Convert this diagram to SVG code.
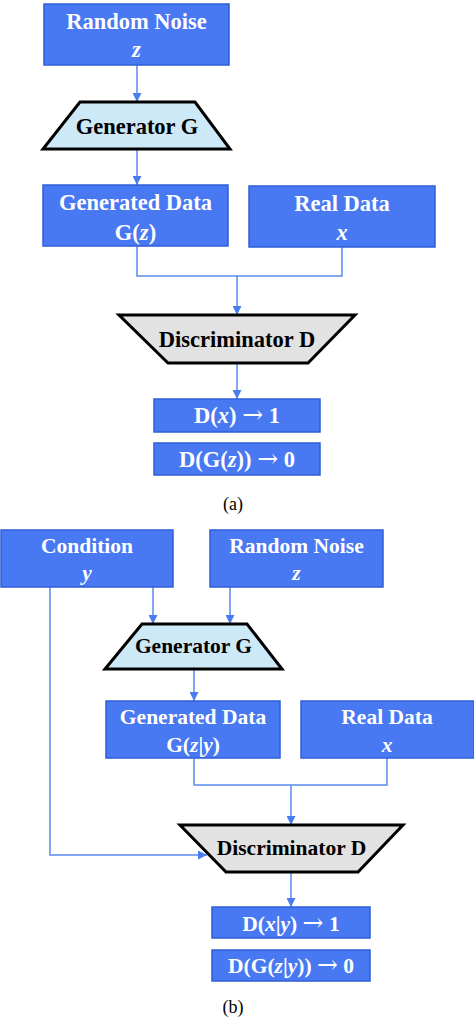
<svg xmlns="http://www.w3.org/2000/svg" width="474" height="1018" viewBox="0 0 474 1018">
<style>
.box{fill:#4878f2;stroke:#2f5fd6;stroke-width:1.5}
.gen{fill:#cde8f7;stroke:#000;stroke-width:3;stroke-linejoin:miter}
.dis{fill:#e2e2e2;stroke:#000;stroke-width:3;stroke-linejoin:miter}
.wt{font-family:"Liberation Serif","Times New Roman",serif;font-weight:bold;fill:#fff;text-anchor:middle}
.bt{font-family:"Liberation Serif","Times New Roman",serif;font-weight:bold;fill:#000;text-anchor:middle}
.a{font-size:22.5px}
.b{font-size:21.5px}
.cap{font-family:"Liberation Serif","Times New Roman",serif;font-size:18px;fill:#000;text-anchor:middle}
.i{font-style:italic}
.ar{font-family:"DejaVu Serif",serif;font-weight:normal;font-size:25px}
.con{fill:none;stroke:#5a8af0;stroke-width:1.5}
</style>
<defs>
<marker id="ah" viewBox="0 0 10 10" refX="10" refY="5" markerWidth="9" markerHeight="9" markerUnits="userSpaceOnUse" orient="auto">
<path d="M0,0 L10,5 L0,10 z" fill="#4a7cf0"/>
</marker>
</defs>

<g id="connectors">
<path class="con" d="M137,65 V102" marker-end="url(#ah)"/>
<path class="con" d="M137,150 V185" marker-end="url(#ah)"/>
<path class="con" d="M137,246 V276 H342 V247"/>
<path class="con" d="M237,276 V315" marker-end="url(#ah)"/>
<path class="con" d="M237,363 V399" marker-end="url(#ah)"/>
<path class="con" d="M153,587 V624" marker-end="url(#ah)"/>
<path class="con" d="M230,587 V624" marker-end="url(#ah)"/>
<path class="con" d="M50,587 V855 H207" marker-end="url(#ah)"/>
<path class="con" d="M194,669 V701" marker-end="url(#ah)"/>
<path class="con" d="M194,758 V785 H387 V758"/>
<path class="con" d="M291,785 V825" marker-end="url(#ah)"/>
<path class="con" d="M291,872 V907" marker-end="url(#ah)"/>
</g>

<g id="a-noise">
<rect class="box" x="44" y="4" width="185" height="61"/>
<text class="wt a" x="136.5" y="29">Random Noise</text>
<text class="wt a i" x="136.5" y="57">z</text>
</g>
<g id="a-generator">
<polygon class="gen" points="80,102 195,102 230,149 43,149"/>
<text class="bt a" x="137" y="134">Generator G</text>
</g>
<g id="a-generated">
<rect class="box" x="43" y="185" width="185" height="61"/>
<text class="wt a" x="135.5" y="210">Generated Data</text>
<text class="wt a" x="135.5" y="240">G(<tspan class="i">z</tspan>)</text>
</g>
<g id="a-real">
<rect class="box" x="249" y="186" width="186" height="61"/>
<text class="wt a" x="342" y="211">Real Data</text>
<text class="wt a i" x="342" y="240">x</text>
</g>
<g id="a-discriminator">
<polygon class="dis" points="119,315 355,315 308,363 168,363"/>
<text class="bt a" x="237" y="347">Discriminator D</text>
</g>
<g id="a-out1">
<rect class="box" x="154" y="399" width="166" height="33"/>
<text class="wt a" x="237" y="423">D(<tspan class="i">x</tspan>) <tspan class="ar">→</tspan> 1</text>
</g>
<g id="a-out2">
<rect class="box" x="154" y="443" width="166" height="32"/>
<text class="wt a" x="237" y="467">D(G(<tspan class="i">z</tspan>)) <tspan class="ar">→</tspan> 0</text>
</g>
<text class="cap" x="233" y="510">(a)</text>

<g id="b-condition">
<rect class="box" x="1" y="530" width="172" height="57"/>
<text class="wt b" x="87" y="553">Condition</text>
<text class="wt b i" x="87" y="580">y</text>
</g>
<g id="b-noise">
<rect class="box" x="210" y="530" width="173" height="57"/>
<text class="wt b" x="296.5" y="553">Random Noise</text>
<text class="wt b i" x="296.5" y="580">z</text>
</g>
<g id="b-generator">
<polygon class="gen" points="142,624 247,624 282,669 105,669"/>
<text class="bt b" x="193.5" y="653">Generator G</text>
</g>
<g id="b-generated">
<rect class="box" x="106" y="701" width="174" height="57"/>
<text class="wt b" x="193" y="724">Generated Data</text>
<text class="wt b" x="193" y="752">G(<tspan class="i">z</tspan>|<tspan class="i">y</tspan>)</text>
</g>
<g id="b-real">
<rect class="box" x="301" y="701" width="173" height="57"/>
<text class="wt b" x="387" y="724">Real Data</text>
<text class="wt b i" x="387" y="752">x</text>
</g>
<g id="b-discriminator">
<polygon class="dis" points="180,825 403,825 358,872 226,872"/>
<text class="bt b" x="291.5" y="855">Discriminator D</text>
</g>
<g id="b-out1">
<rect class="box" x="212" y="907" width="158" height="31"/>
<text class="wt b" x="291" y="931">D(<tspan class="i">x</tspan>|<tspan class="i">y</tspan>) <tspan class="ar">→</tspan> 1</text>
</g>
<g id="b-out2">
<rect class="box" x="212" y="950" width="158" height="31"/>
<text class="wt b" x="291" y="973">D(G(<tspan class="i">z</tspan>|<tspan class="i">y</tspan>)) <tspan class="ar">→</tspan> 0</text>
</g>
<text class="cap" x="233" y="1013">(b)</text>
</svg>
